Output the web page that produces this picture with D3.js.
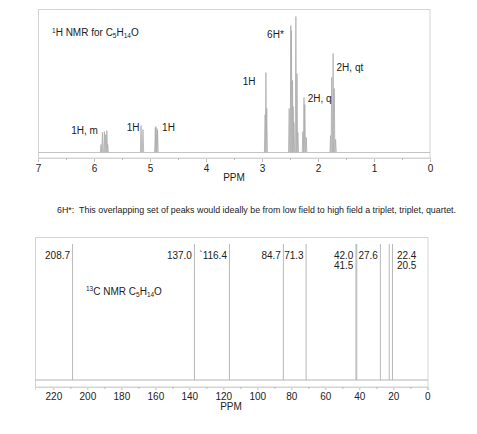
<!DOCTYPE html>
<html><head><meta charset="utf-8">
<script src="https://cdn.jsdelivr.net/npm/d3@7/dist/d3.min.js"></script>
<style>
html,body{margin:0;padding:0;background:#fff;}
svg{display:block;font-family:"Liberation Sans",Arial,Helvetica,sans-serif;}
</style></head>
<body>
<svg id="c" width="477" height="434"></svg>
<script>
// ---------- 1H NMR data ----------
const hPpm = [5.875,5.85,5.815,5.79,5.77,5.755, 5.16,5.125, 4.905,4.895,4.875,4.865,
  2.945,2.93,2.915, 2.515,2.485,2.475,2.455,2.445,2.43,2.395,2.375,2.36,
  2.27,2.25,2.235,2.21, 1.775,1.755,1.73,1.71,1.685];
const hIntensity = [5.6,14,14.6,12.5,15.3,5.6, 18.8,16, 17.4,18.1,16.7,15.3,
  26.5,55.7,30.7, 30.7,88.5,85,50.2,32,20.9,94.8,55,13.9,
  14.6,38.3,33.4,10.5, 11.8,52.3,69,44.6,9.1];
const hLabels = ["1H, m","1H","1H","1H","6H*","2H, q","2H, qt"];
const hLabelPpm = [6.17,5.30,4.67,3.23,2.76,1.97,1.43];
const hLabelInt = [12.6,15.0,15.0,47.1,79.7,35.2,56.7];
const hTicks = [7,6,5,4,3,2,1,0];
const hMinorTicks = [6.5,5.5,4.5,3.5,2.5,1.5,0.5];

// ---------- 13C NMR data ----------
const cPpm = [208.7,137.0,116.4,84.7,71.3,42.0,41.5,27.6,22.4,20.5];
const cLabels = ["208.7","137.0","`116.4","84.7","71.3","42.0","41.5","27.6","22.4","20.5"];
const cTicks = [220,200,180,160,140,120,100,80,60,40,20,0];
const cMinorTicks = [210,190,170,150,130,110,90,70,50,30,10];

const footnote = "6H*:  This overlapping set of peaks would ideally be from low field to high field a triplet, triplet, quartet.";

const svg = d3.select("#c");
const txt = "#222", frame = "#d4d4d4", peak = "#a6a6a6";
const FS = 10;

// ================= TOP: 1H =================
const xH = d3.scaleLinear().domain([7,0]).range([38,430]);
const yH = d3.scaleLinear().domain([0,100]).range([152.5,9]);

svg.append("rect").attr("x",38.5).attr("y",9.5).attr("width",391.5).attr("height",148.5)
  .attr("fill","none").attr("stroke",frame);
svg.append("line").attr("x1",xH(7)).attr("x2",xH(0)).attr("y1",yH(0)).attr("y2",yH(0))
  .attr("stroke","#c4c4c4");

const w = 0.012;
svg.append("g").selectAll("path").data(hPpm).join("path")
  .attr("d",(p,i)=>`M${xH(p+w)},${yH(0)}L${xH(p)},${yH(hIntensity[i])}L${xH(p-w)},${yH(0)}`)
  .attr("fill","#dcdcdc").attr("stroke",peak).attr("stroke-width",0.7);

function styleAxis(g){
  g.select(".domain").attr("stroke",frame);
  g.selectAll(".tick line").attr("stroke","#bbb");
  g.selectAll("text").attr("fill",txt).attr("font-size",FS).attr("font-family","Liberation Sans, Arial, sans-serif");
}
const axH = svg.append("g").attr("transform","translate(0,158)")
  .call(d3.axisBottom(xH).tickValues(hTicks).tickSize(4).tickPadding(2.5).tickFormat(d3.format("d")));
styleAxis(axH);
const axHm = svg.append("g").attr("transform","translate(0,158)")
  .call(d3.axisBottom(xH).tickValues(hMinorTicks).tickSize(2).tickFormat(""));
styleAxis(axHm);

svg.append("g").selectAll("text").data(hLabels).join("text")
  .attr("x",(d,i)=>xH(hLabelPpm[i])).attr("y",(d,i)=>yH(hLabelInt[i]))
  .attr("text-anchor","middle").attr("font-size",FS).attr("fill",txt).text(d=>d);

const t1 = svg.append("text").attr("x",52).attr("y",36).attr("font-size",FS).attr("fill",txt);
t1.append("tspan").attr("font-size",6.5).attr("dy",-3.5).text("1");
t1.append("tspan").attr("dy",3.5).text("H NMR for C");
t1.append("tspan").attr("font-size",6.5).attr("dy",2).text("5");
t1.append("tspan").attr("dy",-2).text("H");
t1.append("tspan").attr("font-size",6.5).attr("dy",2).text("14");
t1.append("tspan").attr("dy",-2).text("O");

svg.append("text").attr("x",234).attr("y",181).attr("text-anchor","middle")
  .attr("font-size",FS).attr("fill",txt).text("PPM");

// footnote
svg.append("text").attr("x",57).attr("y",212.5).attr("font-size",8.8).attr("fill",txt)
  .attr("textLength",399).attr("lengthAdjust","spacingAndGlyphs")
  .attr("xml:space","preserve").style("white-space","pre").text(footnote);

// ================= BOTTOM: 13C =================
const xC = d3.scaleLinear().domain([230.8,-0.4]).range([35,428]);
const yC = d3.scaleLinear().domain([0,1]).range([380,244]);

svg.append("rect").attr("x",35.5).attr("y",237.5).attr("width",392.5).attr("height",149.5)
  .attr("fill","none").attr("stroke",frame);
svg.append("line").attr("x1",xC(230.8)).attr("x2",xC(-0.4)).attr("y1",yC(0)).attr("y2",yC(0))
  .attr("stroke","#b4b4b4");

svg.append("g").selectAll("line").data(cPpm).join("line")
  .attr("x1",d=>xC(d)).attr("x2",d=>xC(d)).attr("y1",yC(0)).attr("y2",yC(1))
  .attr("stroke","#b0b0b0").attr("stroke-width",0.9);

const axC = svg.append("g").attr("transform","translate(0,387)")
  .call(d3.axisBottom(xC).tickValues(cTicks).tickSize(3).tickPadding(3).tickFormat(d3.format("d")));
styleAxis(axC);
const axCm = svg.append("g").attr("transform","translate(0,387)")
  .call(d3.axisBottom(xC).tickValues(cMinorTicks).tickSize(2).tickFormat(""));
styleAxis(axCm);

// 13C labels: stacked pairs share the anchor of the first; the last pair sits right of its lines
const row = [0,0,0,0,0,0,1,0,0,1];
const anchorIdx = [0,1,2,3,4,5,5,7,9,9];
const rightSide = [false,false,false,false,false,false,false,false,true,true];
svg.append("g").selectAll("text").data(cLabels).join("text")
  .attr("x",(d,i)=> rightSide[i] ? xC(cPpm[anchorIdx[i]])+4.5 : xC(cPpm[anchorIdx[i]])-2.5)
  .attr("y",(d,i)=> 259.3 + row[i]*9.5)
  .attr("text-anchor",(d,i)=> rightSide[i] ? "start" : "end")
  .attr("font-size",FS).attr("fill",txt).text(d=>d);

const t2 = svg.append("text").attr("x",86).attr("y",294.5).attr("font-size",FS).attr("fill",txt);
t2.append("tspan").attr("font-size",6.5).attr("dy",-3.5).text("13");
t2.append("tspan").attr("dy",3.5).text("C NMR C");
t2.append("tspan").attr("font-size",6.5).attr("dy",2).text("5");
t2.append("tspan").attr("dy",-2).text("H");
t2.append("tspan").attr("font-size",6.5).attr("dy",2).text("14");
t2.append("tspan").attr("dy",-2).text("O");

svg.append("text").attr("x",231).attr("y",410).attr("text-anchor","middle")
  .attr("font-size",FS).attr("fill",txt).text("PPM");
</script>
</body></html>
